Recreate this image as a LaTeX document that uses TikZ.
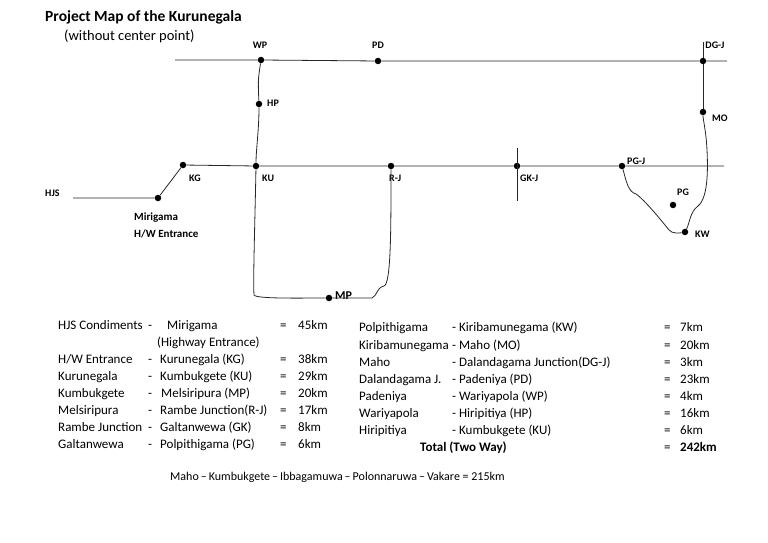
\documentclass[tikz,border=0pt]{standalone}
\usepackage{fontspec}
\setmainfont{Carlito}
\begin{document}
\begin{tikzpicture}[x=1pt,y=-1pt,
  road/.style={line width=0.8pt,black!85},
  dot/.style={circle,fill=black,inner sep=0pt,minimum size=6.5pt},
  lbl/.style={font=\fontsize{10}{12}\selectfont\bfseries,inner sep=0pt},
  txt/.style={font=\fontsize{13}{15}\selectfont,anchor=west,inner sep=0pt,text height=9pt,text depth=3pt}]
\useasboundingbox (0,0) rectangle (768,543);
\node[anchor=west,inner sep=0pt,font=\fontsize{15.5}{17}\selectfont\bfseries] (title) at (45,17) {Project Map of the Kurunegala};
\node[anchor=west,inner sep=0pt,font=\fontsize{14.5}{17}\selectfont] (sub) at (64,36) {(without center point)};
% nodes
\node[dot] (WP) at (261,60) {};
\node[dot] (PD) at (378,61) {};
\node[dot] (DGJ) at (703,61) {};
\node[dot] (HP) at (259,104) {};
\node[dot] (MO) at (703,112) {};
\node[dot] (KG) at (183,165) {};
\node[dot] (KU) at (256,166) {};
\node[dot] (RJ) at (391,166) {};
\node[dot] (GKJ) at (517,166) {};
\node[dot] (PGJ) at (622,166) {};
\node[dot] (PG) at (673,205) {};
\node[dot] (KW) at (685,232) {};
\node[dot] (MIR) at (158,198) {};
\node[dot] (MP) at (329,298) {};
\coordinate (topL) at (175,60);
\coordinate (topR) at (727,61);
\coordinate (dgTop) at (703,42);
\coordinate (midR) at (724,166);
\coordinate (gkT) at (517,148);
\coordinate (gkB) at (517,201);
\coordinate (hjsL) at (73,198);
% labels
\node[lbl] at (260,45) {WP};
\node[lbl] at (378,45) {PD};
\node[lbl] at (715,45) {DG-J};
\node[lbl,anchor=west] at (267,103) {HP};
\node[lbl,anchor=west] at (712,118) {MO};
\node[lbl,anchor=west] at (189,178) {KG};
\node[lbl,anchor=west] at (262,178) {KU};
\node[lbl,anchor=west] at (389,178) {R-J};
\node[lbl,anchor=west] at (520,178) {GK-J};
\node[lbl,anchor=west] at (627,161) {PG-J};
\node[lbl,anchor=west] at (677,192) {PG};
\node[lbl,anchor=west] at (695,234) {KW};
\node[lbl,anchor=west,font=\fontsize{12}{14}\selectfont\bfseries] at (335,296) {MP};
\node[lbl,anchor=west] at (45,193) {HJS};
\node[lbl,anchor=west,align=left,font=\fontsize{11}{17}\selectfont\bfseries] at (134,225) {Mirigama\\H/W Entrance};
% roads
\draw[road] (topL) -- (WP) -- (PD) -- (DGJ) -- (topR);
\draw[road] (dgTop) -- (DGJ) -- (MO);
\draw[road] (WP) .. controls (258,80) .. (HP) .. controls (259,130) and (256,150) .. (KU);
\draw[road] (KG) -- (KU) -- (RJ) -- (GKJ) -- (PGJ) -- (midR);
\draw[road] (gkT) -- (gkB);
\draw[road] (hjsL) -- (MIR) -- (KG);
\draw[road] (KU) .. controls (255,220) and (253,280) .. (254,295) .. controls (256,299) and (300,298) .. (MP) -- (372,298) .. controls (378,295) and (376,288) .. (384,286) .. controls (391,284) and (391,230) .. (RJ);
\draw[road] (PGJ) .. controls (626,180) and (628,192) .. (636,194) .. controls (645,200) and (665,225) .. (669,230) .. controls (672,234) and (680,233) .. (KW);
\draw[road] (KW) .. controls (690,222) and (690,212) .. (698,206) .. controls (708,198) and (708,170) .. (707,150) .. controls (706,130) and (703,120) .. (MO);
% table left
\foreach \y/\a/\d/\b/\c [count=\i] in {326/{HJS Condiments}/{-}/{\hspace{7pt}Mirigama}/45km,
  360/{H/W Entrance}/{-}/{Kurunegala (KG)}/38km,
  377/{Kurunegala}/{-}/{Kumbukgete (KU)}/29km,
  394/{Kumbukgete}/{-}/{\hspace{1pt}Melsiripura (MP)}/20km,
  411/{Melsiripura}/{-}/{Rambe Junction(R-J)}/17km,
  428/{Rambe Junction}/{-}/{Galtanwewa (GK)}/8km,
  445/{Galtanwewa}/{-}/{Polpithigama (PG)}/6km}
  {\node[txt] (la\i) at (58,\y) {\a};
   \node[txt] (le\i) at (148,\y) {\d};
   \node[txt] (lb\i) at (160,\y) {\b};
   \node[txt] (lc\i) at (280,\y) {=};
   \node[txt] (ld\i) at (298,\y) {\c};}
\node[txt] (lhe) at (157,343) {(Highway Entrance)};
% table right
\foreach \y/\a/\b/\c [count=\i] in {328/Polpithigama/- Kiribamunegama (KW)/7km,
  346/Kiribamunegama/- Maho (MO)/20km,
  363/Maho/- Dalandagama Junction(DG-J)/3km,
  380/Dalandagama J./- Padeniya (PD)/23km,
  397/Padeniya/- Wariyapola (WP)/4km,
  414/Wariyapola/- Hiripitiya (HP)/16km,
  431/Hiripitiya/- Kumbukgete (KU)/6km}
  {\node[txt] (ra\i) at (359,\y) {\a};
   \node[txt] (rb\i) at (452,\y) {\b};
   \node[txt] (rc\i) at (664,\y) {=};
   \node[txt] (rd\i) at (680,\y) {\c};}
\node[txt,font=\fontsize{13}{15}\selectfont\bfseries] (tot) at (420,448) {Total (Two Way)};
\node[txt] (teq) at (664,448) {=};
\node[txt,font=\fontsize{13}{15}\selectfont\bfseries] (tkm) at (680,448) {242km};
\node[txt,font=\fontsize{12}{14}\selectfont] (foot) at (170,477) {Maho\,–\,Kumbukgete\,–\,Ibbagamuwa\,–\,Polonnaruwa\,–\,Vakare = 215km};
\end{tikzpicture}
\end{document}
